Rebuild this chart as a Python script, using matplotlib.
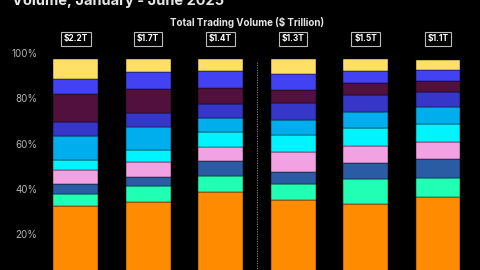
import numpy as np
import matplotlib
matplotlib.use("Agg")
from matplotlib import pyplot as plt

plt.rcParams['font.family'] = ['Inter', 'DejaVu Sans']

# totals shown above each bar ($ trillion)
totals = ["$2.2T", "$1.7T", "$1.4T", "$1.3T", "$1.5T", "$1.1T"]

# share of volume per month (%), bottom segment first
orange = [35.2, 36.9, 41.1, 37.7, 36.0, 39.1]
teal = [5.3, 6.9, 7.4, 7.3, 11.2, 8.5]
darkblue = [4.2, 4.1, 6.6, 5.3, 7.0, 8.3]
pink = [6.3, 6.8, 6.2, 8.8, 7.6, 7.6]
cyan = [4.6, 5.0, 6.7, 7.4, 7.9, 7.9]
lightblue = [10.6, 10.5, 6.0, 6.6, 7.1, 7.4]
indigo = [6.2, 6.2, 6.1, 7.4, 7.5, 6.6]
purple = [12.1, 10.6, 7.3, 5.9, 5.2, 5.1]
blue = [6.9, 7.2, 7.3, 7.1, 5.5, 4.8]
yellow = [8.6, 5.8, 5.3, 6.5, 5.0, 4.3]

series = [orange, teal, darkblue, pink, cyan, lightblue, indigo, purple, blue, yellow]
colors = ["#FF8C00", "#20FFB4", "#2A5CA4", "#F2A2E2", "#00F4FF",
          "#00AEEE", "#3636C8", "#52103F", "#4242F2", "#FFE066"]

fig = plt.figure(figsize=(4.8, 2.7), dpi=100, facecolor="black")
ax = fig.add_axes([0.082, -0.0567, 0.906, 0.8371])
ax.set_facecolor("black")

x = np.arange(len(totals))
bottom = np.zeros(len(totals))
for vals, c in zip(series, colors):
    ax.bar(x, vals, bottom=bottom, width=0.62, color=c, edgecolor="black", linewidth=0.3)
    bottom += np.array(vals)

ax.set_xlim(-0.5, 5.5)
ax.set_ylim(0, 100)
ax.axvline(2.5, ymin=0, ymax=0.987, color="#888888", linestyle=(0, (1, 1.2)), linewidth=0.8)

for s in ax.spines.values():
    s.set_visible(False)
ax.set_xticks([])
ax.set_yticks([20, 40, 60, 80, 100])
ax.set_yticklabels(["20%", "40%", "60%", "80%", "100%"])
ax.tick_params(axis="y", length=0, pad=1.5, labelsize=7, labelcolor="#B5B5B5")
for lbl in ax.get_yticklabels():
    lbl.set_verticalalignment("bottom")

for xi, t in zip(x, totals):
    ax.annotate(t, xy=(xi, 0), xycoords=("data", "figure fraction"),
                xytext=(0, 270 - 39), textcoords="offset pixels",
                ha="center", va="center", color="white", fontsize=6, fontweight="bold",
                bbox=dict(boxstyle="square,pad=0.35", fc="black", ec="#BBBBBB", lw=0.8))

fig.text(0.515, 1 - 23 / 270, "Total Trading Volume ($ Trillion)", ha="center", va="center",
         color="#E6E6E6", fontsize=7, fontweight="bold")
fig.text(0.025, 1 - 4.5 / 270, "Volume, January - June 2025", ha="left", va="baseline",
         color="#E6E6E6", fontsize=10.5, fontweight="bold")

fig.savefig("out.png", dpi=100, facecolor="black")
